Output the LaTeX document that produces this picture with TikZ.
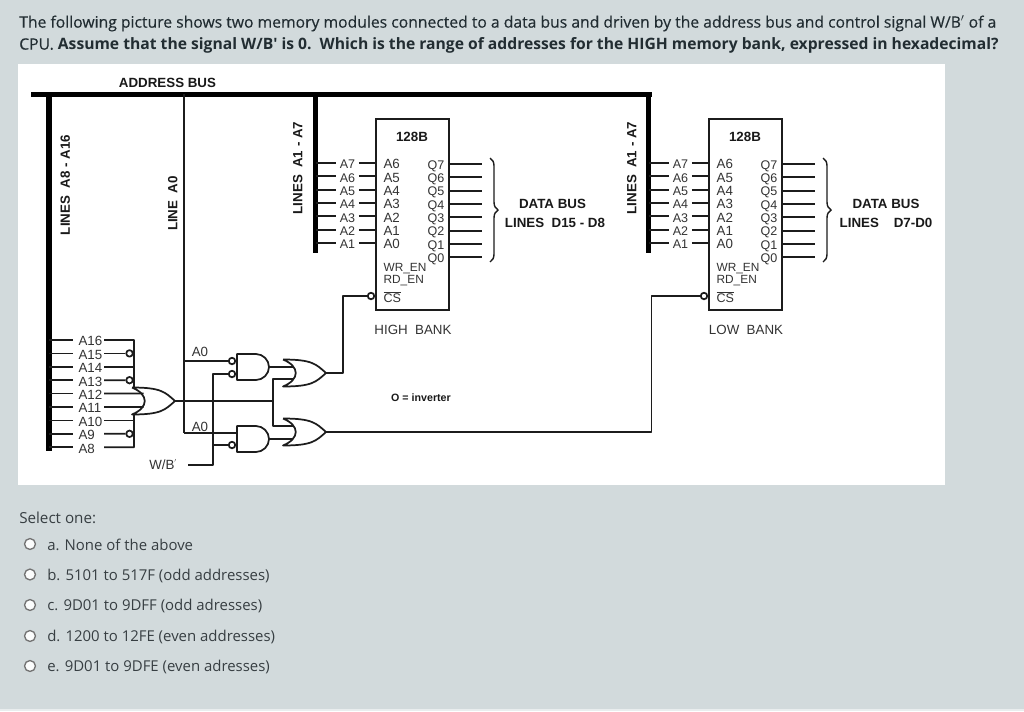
\documentclass[tikz,border=0pt]{standalone}
\usepackage{fontspec}
\usetikzlibrary{decorations.pathreplacing}
\setmainfont{Liberation Sans}
\newfontfamily\questfont{Open Sans}
\newfontfamily\questmed{Open Sans}[FakeBold=0.35]

\definecolor{pagebg}{HTML}{D2DADC}
\definecolor{pagefoot}{HTML}{E9EDEE}
\definecolor{inkq}{HTML}{222D32}
\definecolor{inko}{HTML}{373E42}
\definecolor{wirec}{HTML}{1C1C1C}

\tikzset{
    wire/.style={draw=wirec, line width=1.3pt, line join=round},
    thin wire/.style={draw=wirec, line width=1.05pt},
    busline/.style={draw=black, line width=3.8pt},
    lab/.style={inner sep=2.5pt, text height=8.7pt, text depth=0pt, text=black!80, font=\fontsize{10}{10}\selectfont},
    smalllab/.style={lab, font=\fontsize{9.4}{10}\selectfont},
    boldlab/.style={lab, text=black!90, font=\fontsize{10}{10}\selectfont\bfseries},
    declab/.style={lab, text width=18pt, inner xsep=2.6pt, align=left},
    bubble/.style={circle, wire, fill=white, inner sep=0pt, minimum size=4.9pt},
    block/.style={draw=wirec, line width=1.9pt, minimum width=54.75pt, minimum height=143.25pt},
    radio/.style={circle, draw=black!55, fill=white!92!pagebg, line width=1pt, inner sep=0pt, minimum size=8.2pt},
}

\newcommand{\orgate}[1]{
    \draw[wire] (#1) ++(-43,-13.5) .. controls +(29,0) and +(-10,-9) .. ++(43,13.5)
        .. controls +(-10,9) and +(29,0) .. ++(-43,13.5)
        .. controls +(17,-7) and +(17,7) .. ++(0,-27);
}
\newcommand{\andgate}[1]{
    \draw[wire] (#1) ++(-32,-13) -- ++(19,0) .. controls +(7,0) and +(0,-7) .. ++(13,13)
        .. controls +(0,7) and +(7,0) .. ++(-13,13) -- ++(-19,0) -- cycle;
}
% one memory block with its address and data lines
\newcommand{\membank}[3]{
    \begin{scope}[xshift=#2*0.75pt]
        \coordinate (#1_top) at (315.5,94);
        \coordinate (#1_end) at (315.5,253);
        \draw[busline] (#1_top) -- (#1_end);
        \node[block] (#1_block) at (412.5,214.5) {};
        \node[boldlab] (#1_size) at (412,136) {128B};
        \foreach \k/\m [count=\i from 0] in {7/6,6/5,5/4,4/3,3/2,2/1,1/0} {
            \coordinate (#1_s\k) at (315.5,{163+13.33*\i});
            \node[smalllab] (#1_l\k) at (347.5,{163+13.33*\i}) {A\k};
            \node[lab, anchor=west] (#1_a\m) at (380,{163+13.33*\i}) {A\m};
            \draw[wire] (#1_s\k) -- (#1_l\k.west);
            \draw[wire] (#1_l\k.east) -- (#1_block.west |- #1_l\k.east);
        }
        \foreach \k [count=\i from 0] in {7,...,0} {
            \coordinate (#1_d\k) at (482,{164+13.33*\i});
            \node[smalllab, anchor=east] (#1_q\k) at (448,{163.5+13.33*\i}) {Q\k};
            \draw[wire] (#1_block.east |- #1_d\k) -- (#1_d\k);
        }
        \node[lab, font=\fontsize{8.9}{9}\selectfont, anchor=west] (#1_wr) at (380,266) {WR\_EN};
        \node[lab, font=\fontsize{8.9}{9}\selectfont, anchor=west] (#1_rd) at (380,278) {RD\_EN};
        \node[smalllab, anchor=west] (#1_cs) at (380,297) {$\overline{\mbox{CS}}$};
        \node[bubble] (#1_bub) at (371,296) {};
        \coordinate (#1_br_t) at (490,158);
        \coordinate (#1_br_b) at (490,262);
        \draw[thin wire, decorate, decoration={brace, amplitude=6pt}] (#1_br_t) -- (#1_br_b);
        \node[lab] (#1_name) at (413,329) {#3};
    \end{scope}
}

\begin{document}
\begin{tikzpicture}[x=0.75pt, y=-0.75pt]
    \useasboundingbox (0,0) rectangle (1024,711);
    \fill[pagebg] (0,0) rectangle (1024,711);
    \fill[pagefoot] (0,708.5) rectangle (1024,711);
    \fill[white] (18,64) rectangle (945,485);

    %\draw[step=100,gray,very thin] (0,0) grid (1024,711);

    % question
    \node[anchor=west, inner sep=0pt, text=inkq, font=\fontsize{11.78}{12}\questmed] (q_one) at (19,23.5)
        {The following picture shows two memory modules connected to a data bus and driven by the address bus and control signal W/B$'$ of a};
    \node[anchor=west, inner sep=0pt, text=inkq, font=\fontsize{11.75}{12}\questmed] (q_two) at (19,45.5)
        {CPU. {\questfont\bfseries Assume that the signal W/B' is 0.\ \ Which is the range of addresses for the HIGH memory bank, expressed in hexadecimal?}};

    % address bus
    \coordinate (bus_l) at (31,94.5);
    \coordinate (bus_r) at (651.5,94.5);
    \coordinate (dec_top) at (49,92);
    \coordinate (dec_end) at (49,451);
    \coordinate (a0_top) at (184,94);
    \coordinate (a0_end) at (184,433);
    \draw[busline] (bus_l) -- (bus_r);
    \draw[busline] (dec_top) -- (dec_end);
    \draw[wire] (a0_top) -- (a0_end);

    \node[boldlab] (bus_name) at (167.5,82) {ADDRESS BUS};
    \node[boldlab, rotate=90] (lines_hi) at (64,185) {LINES\ \ A8 - A16};
    \node[boldlab, rotate=90] (line_a0) at (171.5,203.5) {LINE\ \ A0};
    \node[boldlab, rotate=90] (lines_lo) at (296.5,168) {LINES\ \ A1 - A7};
    \node[boldlab, rotate=90] (lines_lo2) at (630.5,168) {LINES\ \ A1 - A7};

    \membank{hi}{0}{HIGH\ \ BANK}
    \membank{lo}{333}{LOW\ \ BANK}

    \node[boldlab] (hi_data) at (552.5,203) {DATA BUS};
    \node[boldlab] (hi_lines) at (555,222) {LINES\ \ D15 - D8};
    \node[boldlab] (lo_data) at (886,203) {DATA BUS};
    \node[boldlab] (lo_lines) at (886,222) {LINES\ \ \ \ D7-D0};

    % gates
    \coordinate (or0) at (175,401);
    \coordinate (or1) at (326,373);
    \coordinate (or2) at (326,432);
    \coordinate (and1) at (269,367);
    \coordinate (and2) at (269,439);
    \orgate{or0}
    \orgate{or1}
    \orgate{or2}
    \andgate{and1}
    \andgate{and2}

    % decoder inputs
    \coordinate (or0_t) at (134,387.5);
    \coordinate (or0_b) at (134,414.5);
    \coordinate (dec_tc) at (134,340);
    \coordinate (dec_bc) at (134,447.2);
    \foreach \k [count=\i from 0] in {16,...,8} {
        \coordinate (dec_s\k) at (49,{340+13.4*\i});
        \node[declab] (dec_l\k) at (88.5,{340+13.4*\i}) {\hspace*{1.5pt}A\k};
        \draw[wire] (dec_s\k) -- (dec_l\k.west);
    }
    \node[bubble] (bub_a15) at (129.5,353.4) {};
    \node[bubble] (bub_a13) at (129.5,380.2) {};
    \node[bubble] (bub_a9) at (129.5,433.8) {};
    \draw[wire] (dec_l16.east) -- (dec_tc) -- (or0_t);
    \draw[wire] (dec_l8.east) -- (dec_bc) -- (or0_b);
    \draw[wire] (dec_l15.east) -- (bub_a15);
    \draw[wire] (dec_l13.east) -- (bub_a13);
    \draw[wire] (dec_l9.east) -- (bub_a9);
    \draw[wire] (dec_l14.east) -- (or0_t |- dec_l14.east);
    \draw[wire] (dec_l10.east) -- (or0_b |- dec_l10.east);
    \coordinate (or0_in1) at (143.5,393.6);
    \coordinate (or0_in2) at (143.5,407);
    \draw[wire] (dec_l12.east) -- (or0_in1);
    \draw[wire] (dec_l11.east) -- (or0_in2);

    % select logic
    \node[bubble] (bub_and1a) at (232,361) {};
    \node[bubble] (bub_and1b) at (232,374) {};
    \node[bubble] (bub_and2) at (232,445) {};
    \coordinate (a0_up) at (184,361);
    \coordinate (and2_a0) at (237,433);
    \draw[wire] (a0_up) -- (bub_and1a);
    \draw[wire] (a0_end) -- (and2_a0);
    \node[lab] (a0_lab1) at (200,351) {A0};
    \node[lab] (a0_lab2) at (200,426) {A0};

    \node[lab] (wb_lab) at (163,464) {W/B\raisebox{3pt}{\scalebox{0.6}{$'$}}};
    \coordinate (wb_s) at (188,465);
    \coordinate (wb_c) at (213,465);
    \coordinate (wb_t) at (213,374);
    \coordinate (wb_m) at (213,445);
    \draw[wire] (wb_s) -- (wb_c) -- (wb_t) -- (bub_and1b);
    \draw[wire] (wb_m) -- (bub_and2);

    \coordinate (sel_s) at (175,401);
    \coordinate (sel_e) at (273,401);
    \coordinate (sel_t) at (273,379);
    \coordinate (sel_b) at (273,426);
    \coordinate (or1_sel) at (294,379);
    \coordinate (or2_sel) at (293,426);
    \draw[wire] (sel_s) -- (sel_e);
    \draw[wire] (or1_sel) -- (sel_t) -- (sel_b) -- (or2_sel);
    \coordinate (or1_in) at (293,367);
    \coordinate (or2_in) at (293,439);
    \draw[wire] (and1) -- (or1_in);
    \draw[wire] (and2) -- (or2_in);

    % chip selects
    \coordinate (hi_turn) at (343,296);
    \coordinate (hi_drop) at (343,373);
    \coordinate (lo_turn) at (651.5,296);
    \coordinate (lo_drop) at (651.5,432);
    \draw[wire] (or1) -- (hi_drop) -- (hi_turn) -- (hi_bub);
    \draw[wire] (or2) -- (lo_drop) -- (lo_turn) -- (lo_bub);

    \node[boldlab, text height=6.5pt, font=\fontsize{8}{8}\selectfont\bfseries] (legend) at (421,397) {O = inverter};

    % answers
    \node[anchor=west, inner sep=0pt, text=inko, font=\fontsize{11.4}{12}\questfont] (select) at (19,518) {Select one:};
    \foreach \n/\y/\t in {a/544/{a. None of the above},
                          b/574.5/{b. 5101 to 517F (odd addresses)},
                          c/605/{c. 9D01 to 9DFF (odd adresses)},
                          d/636/{d. 1200 to 12FE (even addresses)},
                          e/666/{e. 9D01 to 9DFE (even adresses)}} {
        \node[radio] (radio_\n) at (30,\y) {};
        \node[anchor=west, inner sep=0pt, text=inko, font=\fontsize{11.2}{12}\questfont] (opt_\n) at (47,\y+1) {\t};
    }
\end{tikzpicture}
\end{document}
